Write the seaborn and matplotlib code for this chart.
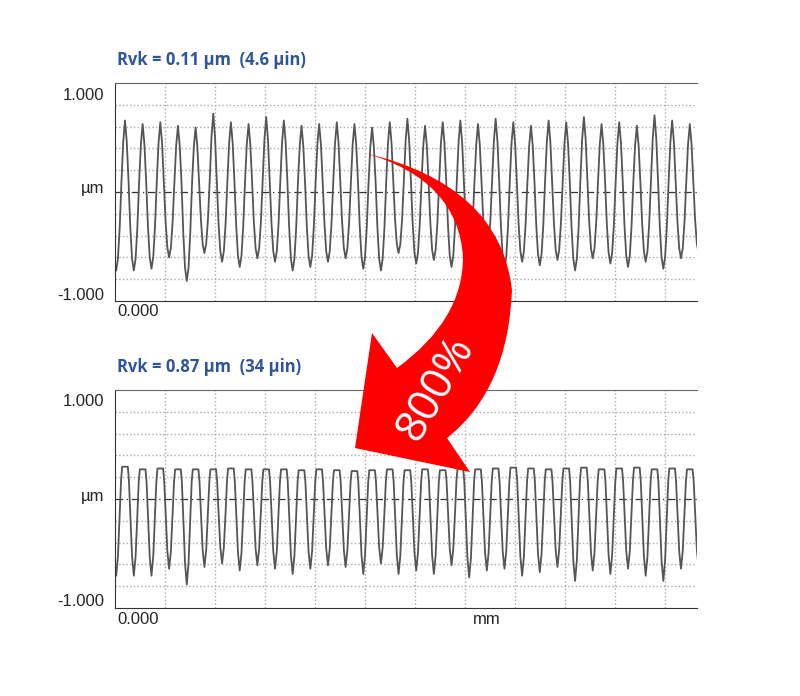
import numpy as np
import pandas as pd
import seaborn as sns
import matplotlib.pyplot as plt
from matplotlib.patches import PathPatch
from matplotlib.path import Path

# Profile data: one peak and one valley per cycle (um)
top_peaks = [0.82, 0.78, 0.8, 0.76, 0.74, 0.9, 0.8, 0.78, 0.86, 0.82, 0.76, 0.78, 0.8, 0.78,
             0.74, 0.8, 0.84, 0.76, 0.8, 0.82, 0.78, 0.84, 0.8, 0.76, 0.82, 0.8, 0.86, 0.78,
             0.8, 0.76, 0.88, 0.82, 0.78]
top_valleys = [-0.9, -0.88, -0.75, -1.02, -0.7, -0.8, -0.86, -0.76, -0.8, -0.9, -0.86, -0.8,
               -0.76, -0.88, -0.9, -0.7, -0.82, -0.78, -0.86, -0.8, -0.72, -0.88, -0.8, -0.84,
               -0.78, -0.9, -0.76, -0.82, -0.86, -0.8, -0.88, -0.76, -0.7]
bot_plateaus = [0.37, 0.34, 0.35, 0.34, 0.34, 0.34, 0.35, 0.34, 0.34, 0.34, 0.33, 0.34, 0.33,
                0.32, 0.33, 0.34, 0.33, 0.34, 0.33, 0.35, 0.34, 0.35, 0.36, 0.35, 0.34, 0.35,
                0.36, 0.34, 0.35, 0.36, 0.34, 0.35, 0.34]
bot_valleys = [-0.88, -0.88, -0.8, -0.98, -0.78, -0.74, -0.82, -0.76, -0.8, -0.86, -0.8, -0.76,
               -0.78, -0.86, -0.74, -0.86, -0.82, -0.86, -0.76, -0.9, -0.82, -0.8, -0.88, -0.84,
               -0.78, -0.94, -0.82, -0.86, -0.8, -0.88, -0.94, -0.8, -0.78]
titles = ["Rvk = 0.11 µm  (4.6 µin)", "Rvk = 0.87 µm  (34 µin)"]

period = 0.353
start = 0.2
# cycle shape templates: (phase offset as fraction of period, fraction of peak(+)/valley(-))
top_shape = [(-0.5, -1.0), (-0.4, -0.85), (-0.3, -0.45), (-0.2, 0.15), (-0.1, 0.7), (0.0, 1.0),
             (0.1, 0.7), (0.2, 0.15), (0.3, -0.45), (0.4, -0.85)]
bot_shape = [(-0.5, -1.0), (-0.4, -0.75), (-0.3, -0.2), (-0.22, 0.6), (-0.16, 1.0), (0.16, 1.0),
             (0.22, 0.6), (0.3, -0.2), (0.4, -0.75)]


def profile(peaks, valleys, shape):
    xs, ys = [], []
    for i, (p, v) in enumerate(zip(peaks, valleys)):
        c = start + i * period
        vprev = valleys[i - 1] if i > 0 else valleys[0]
        for ph, f in shape:
            xs.append(c + ph * period)
            vv = vprev if ph < 0 else v
            ys.append(f * p if f > 0 else -f * vv)
    xs.append(start + len(peaks) * period - 0.5 * period)
    ys.append(valleys[-1])
    return pd.DataFrame({"x": xs, "y": ys})


sns.set_style("white")
plt.rcParams['font.family'] = ['Liberation Sans', 'DejaVu Sans']
fig = plt.figure(figsize=(8, 6.96), dpi=100)

W, H = 800, 696
data = [profile(top_peaks, top_valleys, top_shape), profile(bot_plateaus, bot_valleys, bot_shape)]
for k, (df, title) in enumerate(zip(data, titles)):
    top_px = 83 if k == 0 else 390
    ax = fig.add_axes([115 / W, 1 - (top_px + 218) / H, 582 / W, 218 / H])
    for xv in range(1, 12):
        ax.axvline(xv, color='#aaaaaa', ls=':', lw=1)
    for yv in np.arange(-1.0, 1.01, 0.25):
        if abs(yv) < 1e-9:
            ax.axhline(0, color='#333333', ls=(0, (6, 3, 1, 3)), lw=0.9)
        else:
            ax.axhline(yv, color='#aaaaaa', ls=':', lw=1)
    sns.lineplot(data=df, x="x", y="y", ax=ax, color='#555555', lw=1.3, sort=False)
    ax.set_xlim(0, 11.64)
    ax.set_ylim(-1.25, 1.25)
    ax.set_xticks([])
    ax.set_yticks([])
    ax.set_xlabel("")
    ax.set_ylabel("")
    for s in ax.spines.values():
        s.set_color('#333333')
    ax.spines['right'].set_visible(False)
    ax.spines['top'].set_color('#666666')
    ax.spines['top'].set_linewidth(0.8)
    fs = 12
    fig.text(104 / W, 1 - (top_px + 12) / H, "1.000", ha='right', va='center', fontsize=fs)
    fig.text(104 / W, 1 - (top_px + 212) / H, "-1.000", ha='right', va='center', fontsize=fs)
    fig.text(104 / W, 1 - (top_px + 106) / H, "µm", ha='right', va='center', fontsize=fs)
    fig.text(117 / W, 1 - (top_px + 229) / H, "0.000", ha='left', va='center', fontsize=fs)
    fig.text(117 / W, 1 - (top_px - 23) / H, title, ha='left', va='center', fontsize=12,
             fontweight='bold', color='#2f5597', family=['Open Sans', 'DejaVu Sans'])
fig.text(487 / W, 1 - 620 / H, "mm", ha='center', va='center', fontsize=12)

# curved red arrow
verts_px = [(365, 153), (500, 185), (512, 290), (508, 390), (447, 438),
            (470, 472), (355, 448), (372, 333), (397, 368),
            (463, 320), (463, 257), (458, 180), (365, 153)]
codes = [Path.MOVETO, Path.CURVE3, Path.CURVE3, Path.CURVE3, Path.CURVE3,
         Path.LINETO, Path.LINETO, Path.LINETO, Path.LINETO,
         Path.CURVE3, Path.CURVE3, Path.CURVE3, Path.CURVE3]
verts = [(x / W, 1 - y / H) for x, y in verts_px]
fig.patches.append(PathPatch(Path(verts, codes), transform=fig.transFigure, facecolor='#ff0000',
                             edgecolor='none', zorder=10))
fig.text(436 / W, 1 - 388 / H, "800%", color='white', fontsize=32, rotation=60,
         ha='center', va='center', zorder=11, family=['Open Sans', 'DejaVu Sans'])

fig.savefig('out.png')
